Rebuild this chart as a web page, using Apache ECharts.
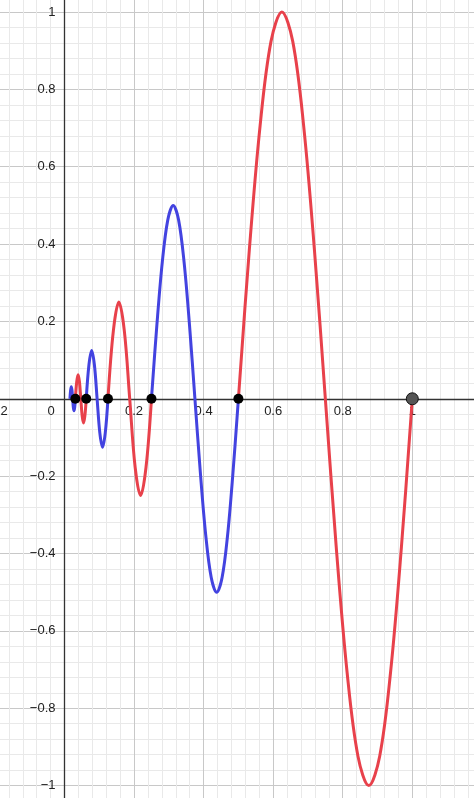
<!DOCTYPE html>
<html>
<head>
<meta charset="utf-8">
<script src="https://cdn.jsdelivr.net/npm/echarts@6/dist/echarts.min.js"></script>
<style>html,body{margin:0;padding:0;background:#fff}#c{width:474px;height:798px}</style>
</head>
<body>
<div id="c"></div>
<script>
// Tick labels
const xTicks = [-0.2, 0, 0.2, 0.4, 0.6, 0.8, 1];
const yTicks = [-1, -0.8, -0.6, -0.4, -0.2, 0, 0.2, 0.4, 0.6, 0.8, 1];

// Curve segments (x, y samples)
const seg1X = [0.015625, 0.017578, 0.019531, 0.021484, 0.023438, 0.025391, 0.027344, 0.029297, 0.03125];
const seg1Y = [0, 0.022, 0.031, 0.022, 0, -0.022, -0.031, -0.022, 0];
const seg2X = [0.03125, 0.035156, 0.039063, 0.042969, 0.046875, 0.050781, 0.054688, 0.058594, 0.0625];
const seg2Y = [0, 0.044, 0.0625, 0.044, 0, -0.044, -0.0625, -0.044, 0];
const seg3X = [0.0625, 0.070313, 0.078125, 0.085938, 0.09375, 0.101563, 0.109375, 0.117188, 0.125];
const seg3Y = [0, 0.088, 0.125, 0.088, 0, -0.088, -0.125, -0.088, 0];
const seg4X = [0.125, 0.140625, 0.15625, 0.171875, 0.1875, 0.203125, 0.21875, 0.234375, 0.25];
const seg4Y = [0, 0.177, 0.25, 0.177, 0, -0.177, -0.25, -0.177, 0];
const seg5X = [0.25, 0.265625, 0.28125, 0.296875, 0.3125, 0.328125, 0.34375, 0.359375, 0.375, 0.390625, 0.40625, 0.421875, 0.4375, 0.453125, 0.46875, 0.484375, 0.5];
const seg5Y = [0, 0.191, 0.354, 0.462, 0.5, 0.462, 0.354, 0.191, 0, -0.191, -0.354, -0.462, -0.5, -0.462, -0.354, -0.191, 0];
const seg6X = [0.5, 0.53125, 0.5625, 0.59375, 0.625, 0.65625, 0.6875, 0.71875, 0.75, 0.78125, 0.8125, 0.84375, 0.875, 0.90625, 0.9375, 0.96875, 1];
const seg6Y = [0, 0.383, 0.707, 0.924, 1, 0.924, 0.707, 0.383, 0, -0.383, -0.707, -0.924, -1, -0.924, -0.707, -0.383, 0];

// Marked points on the x axis
const pointX = [0.03125, 0.0625, 0.125, 0.25, 0.5];
const endPointX = [1];

const RED = '#e8414b';
const BLUE = '#4343e0';
const FONT = 'Liberation Sans, Arial, sans-serif';

// Layout (pixels): grid extends beyond the canvas so that tick grids start at round values
const W = 474, H = 798;
const X_MIN = -0.2, X_MAX = 1.2, Y_MIN = -1.2, Y_MAX = 1.2;
const PX_PER_X = 347.8, PX_PER_Y = 386.8;
const ORIGIN_PX = [64.5, 398.8];
const gridLeft = ORIGIN_PX[0] + X_MIN * PX_PER_X;
const gridRight = W - (ORIGIN_PX[0] + X_MAX * PX_PER_X);
const gridTop = ORIGIN_PX[1] - Y_MAX * PX_PER_Y;
const gridBottom = H - (ORIGIN_PX[1] - Y_MIN * PX_PER_Y);
const xAxisOffset = -((H - gridBottom) - ORIGIN_PX[1]);
const yAxisOffset = -(ORIGIN_PX[0] - gridLeft);

function zip(xs, ys) { return xs.map((x, i) => [x, ys[i]]); }
const segments = [
  {x: seg1X, y: seg1Y, c: BLUE},
  {x: seg2X, y: seg2Y, c: RED},
  {x: seg3X, y: seg3Y, c: BLUE},
  {x: seg4X, y: seg4Y, c: RED},
  {x: seg5X, y: seg5Y, c: BLUE},
  {x: seg6X, y: seg6Y, c: RED}
];

function fmt(v) {
  const r = Math.round(v * 100) / 100;
  return r < 0 ? '\u2212' + String(-r) : String(r);
}

const chart = echarts.init(document.getElementById('c'), null, {renderer: 'canvas'});
const series = segments.map(s => ({
  type: 'line',
  data: zip(s.x, s.y),
  smooth: 0.35,
  showSymbol: false,
  lineStyle: {color: s.c, width: 3},
  animation: false,
  z: 3
}));
series.push({
  type: 'scatter',
  data: pointX.map(x => [x, 0]),
  symbolSize: 10,
  itemStyle: {color: '#000', opacity: 1},
  animation: false,
  z: 5
});
series.push({
  type: 'scatter',
  data: endPointX.map(x => [x, 0]),
  symbolSize: 12,
  itemStyle: {color: '#555', borderColor: '#111', borderWidth: 1, opacity: 1},
  animation: false,
  z: 5
});

chart.setOption({
  backgroundColor: '#fff',
  animation: false,
  grid: {left: gridLeft, right: gridRight, top: gridTop, bottom: gridBottom, outerBoundsMode: 'none'},
  xAxis: {
    type: 'value', min: X_MIN, max: X_MAX, interval: 0.2,
    position: 'bottom', offset: xAxisOffset,
    axisLine: {onZero: false, lineStyle: {color: '#333', width: 1.3}},
    axisTick: {show: false},
    splitLine: {show: true, lineStyle: {color: '#c8c8c8', width: 1}},
    minorTick: {show: false, splitNumber: 5},
    minorSplitLine: {show: true, lineStyle: {color: '#e9e9e9', width: 1}},
    axisLabel: {
      color: '#222', fontSize: 13, fontFamily: FONT, margin: 6,
      showMinLabel: true, showMaxLabel: false, hideOverlap: false,
      formatter: function (v) {
        if (Math.abs(v) < 1e-9) return '{z|0}';
        if (xTicks.some(t => Math.abs(t - v) < 1e-9)) return fmt(v);
        return '';
      },
      rich: {z: {fontSize: 13, color: '#222', fontFamily: FONT, padding: [0, 27, 0, 0]}}
    }
  },
  yAxis: {
    type: 'value', min: Y_MIN, max: Y_MAX, interval: 0.2,
    position: 'left', offset: yAxisOffset,
    axisLine: {onZero: false, lineStyle: {color: '#333', width: 1.3}},
    axisTick: {show: false},
    splitLine: {show: true, lineStyle: {color: '#c8c8c8', width: 1}},
    minorTick: {show: false, splitNumber: 5},
    minorSplitLine: {show: true, lineStyle: {color: '#e9e9e9', width: 1}},
    axisLabel: {
      color: '#222', fontSize: 13, fontFamily: FONT, margin: 9, hideOverlap: false,
      formatter: function (v) {
        if (Math.abs(v) < 1e-9) return '';
        if (yTicks.some(t => Math.abs(t - v) < 1e-9)) return fmt(v);
        return '';
      }
    }
  },
  series: series
});
</script>
</body>
</html>
